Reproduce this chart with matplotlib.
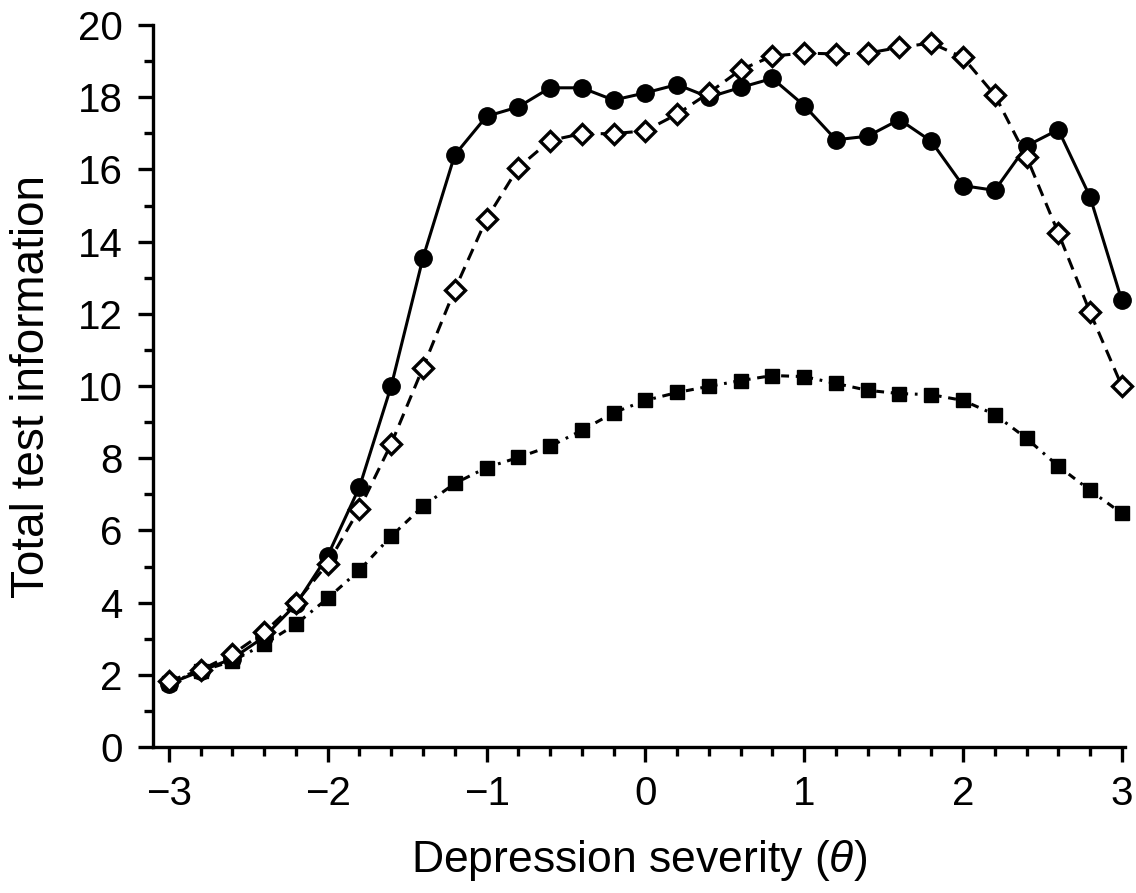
import numpy as np
import matplotlib
matplotlib.use("Agg")
import matplotlib.pyplot as plt
from matplotlib.ticker import MultipleLocator

plt.rcParams['font.family'] = ['Liberation Sans', 'DejaVu Sans']
plt.rcParams['mathtext.fontset'] = 'custom'
plt.rcParams['mathtext.it'] = 'Liberation Sans:italic'
plt.rcParams['mathtext.rm'] = 'Liberation Sans'

theta = [-3.0, -2.8, -2.6, -2.4, -2.2, -2.0, -1.8, -1.6, -1.4, -1.2, -1.0,
         -0.8, -0.6, -0.4, -0.2, 0.0, 0.2, 0.4, 0.6, 0.8, 1.0,
         1.2, 1.4, 1.6, 1.8, 2.0, 2.2, 2.4, 2.6, 2.8, 3.0]

circles = [1.75, 2.10, 2.45, 3.05, 3.95, 5.30, 7.20, 10.00, 13.55, 16.40, 17.47,
           17.73, 18.26, 18.26, 17.92, 18.12, 18.35, 18.00, 18.27, 18.52, 17.77,
           16.82, 16.92, 17.38, 16.78, 15.55, 15.42, 16.65, 17.10, 15.24, 12.37]

diamonds = [1.83, 2.13, 2.57, 3.18, 4.00, 5.08, 6.60, 8.40, 10.51, 12.67, 14.63,
            16.05, 16.80, 16.99, 16.99, 17.07, 17.53, 18.12, 18.76, 19.14, 19.22,
            19.20, 19.22, 19.38, 19.50, 19.10, 18.06, 16.35, 14.24, 12.04, 10.00]

squares = [1.78, 2.10, 2.38, 2.85, 3.40, 4.12, 4.90, 5.84, 6.67, 7.30, 7.74,
           8.02, 8.33, 8.77, 9.26, 9.60, 9.82, 9.99, 10.15, 10.29, 10.26,
           10.07, 9.88, 9.79, 9.76, 9.60, 9.21, 8.55, 7.78, 7.11, 6.47]

xtick_vals = [-3, -2, -1, 0, 1, 2, 3]
xtick_labels = ['\u22123', '\u22122', '\u22121', '0', '1', '2', '3']

fig = plt.figure(figsize=(11.36, 8.93), dpi=100)
ax = fig.add_axes([153/1136, 1 - 747/893, (1125 - 153)/1136, (747 - 25)/893])

lw = 2.2
ax.plot(theta, squares, color='black', lw=lw, linestyle=(0, (2.6, 2.2, 0.9, 2.2)),
        marker='s', markersize=10.5, markerfacecolor='black', markeredgecolor='black',
        zorder=2, clip_on=False)
ax.plot(theta, circles, color='black', lw=lw, linestyle='-',
        marker='o', markersize=12.5, markerfacecolor='black', markeredgecolor='black',
        zorder=3, clip_on=False)
ax.plot(theta, diamonds, color='black', lw=lw, linestyle=(0, (4.0, 2.5)),
        marker='D', markersize=10.5, markerfacecolor='white', markeredgecolor='black',
        markeredgewidth=2.4, zorder=4, clip_on=False)

ax.set_xlim(-3.1, 3.02)
ax.set_ylim(0, 20)

for s in ['top', 'right']:
    ax.spines[s].set_visible(False)
for s in ['left', 'bottom']:
    ax.spines[s].set_linewidth(2.4)

ax.xaxis.set_major_locator(MultipleLocator(1))
ax.xaxis.set_minor_locator(MultipleLocator(0.2))
ax.yaxis.set_major_locator(MultipleLocator(2))
ax.yaxis.set_minor_locator(MultipleLocator(1))

ax.tick_params(axis='both', which='major', direction='out', length=11, width=2.4,
               labelsize=29, color='black')
ax.tick_params(axis='both', which='minor', direction='out', length=6.5, width=2.4)
ax.tick_params(axis='x', which='major', pad=9)
ax.tick_params(axis='y', which='major', pad=11)

ax.set_xticks(xtick_vals)
ax.set_xticklabels(xtick_labels)

ax.set_xlabel(r'Depression severity ($\it{\theta}$)', fontsize=32)
ax.set_ylabel('Total test information', fontsize=33)
ax.xaxis.set_label_coords(0.5, (747 - 838) / 722)
ax.yaxis.set_label_coords((54 - 153) / 972, 0.5)

fig.savefig('out.png', dpi=100)
